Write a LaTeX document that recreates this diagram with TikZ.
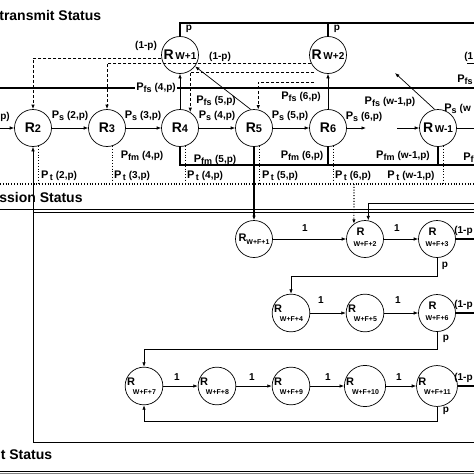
\documentclass[tikz,border=0pt]{standalone}
\usepackage{fontspec}
\setmainfont{Liberation Sans}
\usetikzlibrary{arrows.meta}

\newcommand{\Rm}[1]{{\fontsize{14}{14}\selectfont R}{\fontsize{11}{11}\selectfont #1}}
\newcommand{\Rw}[1]{{\fontsize{14}{14}\selectfont R}\,{\fontsize{10}{10}\selectfont #1}}
\newcommand{\Rinl}[1]{{\fontsize{11}{11}\selectfont R}\raisebox{-2.5pt}{\fontsize{7}{7}\selectfont #1}}
\newcommand{\Rlow}[1]{\raisebox{4pt}{\fontsize{11}{11}\selectfont R}\hspace{-2pt}\raisebox{-5pt}{\fontsize{7}{7}\selectfont #1}\kern5pt}
\newcommand{\Rstk}[1]{\begin{tabular}{@{}l@{}}\fontsize{11}{11}\selectfont\hspace*{3pt}R\\[-1pt]\fontsize{7}{7}\selectfont #1\end{tabular}}
\newcommand{\lab}[2]{{\fontsize{11}{11}\selectfont P}\raisebox{-2pt}{\fontsize{9}{9}\selectfont #1}\hspace{3pt}{\fontsize{10}{10}\selectfont (#2)}}
\newcommand{\sm}[1]{{\fontsize{10}{10}\selectfont #1}}
\newcommand{\ttl}[1]{{\fontsize{14}{14}\selectfont #1}}

\begin{document}
\begin{tikzpicture}[x=1pt, y=-1pt, line width=0.7pt,
  every node/.style={font=\bfseries, inner sep=1pt},
  rnode/.style={circle, draw, minimum size=37pt, inner sep=0pt},
  arr/.style={-{Latex[length=4.5pt,width=3.5pt]}},
  dsh/.style={dash pattern=on 3pt off 2pt, line width=1pt},
  dtt/.style={dash pattern=on 1pt off 1.8pt, line width=1.1pt},
  thk/.style={line width=1.2pt}]

    \useasboundingbox (0,0) rectangle (474,474);

    % titles
    \node[anchor=west, inner sep=0pt] (tRe) at (-1,15) {\ttl{transmit Status}};
    \node[anchor=west, inner sep=0pt] (tTr) at (-1,197) {\ttl{ssion Status}};
    \node[anchor=west, inner sep=0pt] (tWa) at (0.5,455) {\ttl{t Status}};

    % main row
    \node[rnode] (R2) at (33,128) {\Rm{2}};
    \node[rnode] (R3) at (107,128) {\Rm{3}};
    \node[rnode] (R4) at (180,128) {\Rm{4}};
    \node[rnode] (R5) at (254,128) {\Rm{5}};
    \node[rnode] (R6) at (328,128) {\Rm{6}};
    \node[rnode] (Rwm) at (438,128) {\Rw{W-1}};
    \node[rnode] (Rw1) at (180,55) {\Rw{W+1}};
    \node[rnode] (Rw2) at (328,55) {\Rw{W+2}};

    % lower part
    \node[rnode] (F1) at (254,239) {\Rinl{W+F+1}};
    \node[rnode] (F2) at (365,239) {\Rstk{W+F+2}};
    \node[rnode] (F3) at (437,239) {\Rstk{W+F+3}};
    \node[rnode] (F4) at (291,313) {\Rlow{W+F+4}};
    \node[rnode] (F5) at (365,313) {\Rlow{W+F+5}};
    \node[rnode] (F6) at (437,313) {\Rstk{W+F+6}};
    \node[rnode] (F7) at (144,386) {\Rlow{W+F+7}};
    \node[rnode] (F8) at (217,386) {\Rlow{W+F+8}};
    \node[rnode] (F9) at (291,386) {\Rlow{W+F+9}};
    \node[rnode] (F10) at (365,386) {\Rlow{W+F+10}};
    \node[rnode] (F11) at (437,386) {\Rlow{W+F+11}};

    \coordinate (in0) at (0,128);
    \coordinate (m1) at (366,128);
    \coordinate (m2) at (397,128);
    \coordinate (out1) at (474,128);
    \coordinate (t0) at (180,23);
    \coordinate (t1) at (474,23);
    \coordinate (t2) at (328,23);
    \coordinate (h0) at (0,88);
    \coordinate (h1) at (474,88);
    \coordinate (d1) at (395,73);
    \coordinate (c3) at (314,72);
    \coordinate (c4) at (314,82);
    \coordinate (e0) at (467,63);
    \coordinate (e1) at (474,63);
    \coordinate (b1) at (474,165);
    \coordinate (p0) at (0,184);
    \coordinate (p1) at (474,184);
    \coordinate (q1) at (354,184);
    \coordinate (r1) at (474,203);
    \coordinate (s1) at (474,442);
    \coordinate (s2) at (33,442);
    \coordinate (s3) at (474,212);
    \coordinate (s4) at (33,212);
    \coordinate (k1) at (437,276);
    \coordinate (k2) at (437,349);
    \coordinate (k3) at (437,421);
    \coordinate (o3) at (474,239);
    \coordinate (o6) at (474,313);
    \coordinate (o11) at (474,386);

    % region lines
    \draw[line width=1pt] (0,209) -- (474,209);
    \draw[line width=1pt] (0,471.5) -- (474,471.5);
    \draw[line width=1pt, gray] (0,473.5) -- (474,473.5);

    % retransmit part
    \draw[thk] (Rw1) -- (t0) -- (t1);
    \draw[thk] (Rw2) -- (t2);
    \draw[thk] (h0) -- (h1);
    \node[fill=white] (lf4) at (156,88) {\lab{fs}{4,p}};
    \draw[arr] (R4) -- (Rw1);
    \draw[arr] (R5.100) -- (Rw1.-37);
    \draw[arr] (R6) -- (Rw2);
    \draw[arr] (Rwm.100) -- (d1);
    \draw (e0) -- (e1);
    \draw[dsh, arr] (Rw1.190) -| (R2.north);
    \draw[dsh, arr] (Rw2.208) -| (R3.north);
    \draw[dsh, arr] (c3) -| (R4.57);
    \draw[dsh, arr] (c4) -| (R5.77);

    \node (lp1) at (189,29) {\sm{p}};
    \node (lp2) at (337,29) {\sm{p}};
    \node (lq1) at (146,46) {\sm{(1-p)}};
    \node (lq2) at (220,57) {\sm{(1-p)}};
    \node (lf5) at (216,101) {\lab{fs}{5,p}};
    \node (lf6) at (301,97) {\lab{fs}{6,p}};
    \node (lfw) at (390,102) {\lab{fs}{w-1,p}};
    \node[anchor=east] (lfr) at (474,80) {{\fontsize{11}{11}\selectfont P}\raisebox{-2pt}{\fontsize{9}{9}\selectfont fs}};
    \node[anchor=west] (lqr) at (463,57) {\sm{(1}};

    % success transitions
    \draw[arr] (in0) -- (R2);
    \draw[arr] (R2) -- (R3);
    \draw[arr] (R3) -- (R4);
    \draw[arr] (R4) -- (R5);
    \draw[arr] (R5) -- (R6);
    \draw[arr] (R6) -- (m1);
    \draw[arr] (m2) -- (Rwm);
    \draw (Rwm) -- (out1);

    \node (ls1) at (5,117) {\sm{p)}};
    \node (ls2) at (70,116) {\lab{s}{2,p}};
    \node (ls3) at (143,116) {\lab{s}{3,p}};
    \node (ls4) at (217,116) {\lab{s}{4,p}};
    \node (ls5) at (290,116) {\lab{s}{5,p}};
    \node (ls6) at (364,117) {\lab{s}{6,p}};
    \node[anchor=west] (lsw) at (443,109) {{\fontsize{11}{11}\selectfont P}\raisebox{-2pt}{\fontsize{9}{9}\selectfont s}\hspace{3pt}{\fontsize{10}{10}\selectfont (w}};

    % failure and timeout transitions
    \draw[thk] (R4.south) |- (b1);
    \draw[thk] (R6.south) -- (R6.south |- b1);
    \draw[thk] (Rwm.south) -- (Rwm.south |- b1);
    \draw[thk, arr] (R5.south) -- (F1.north);
    \draw[dtt] (p0) -- (p1);
    \foreach \n in {R2,R3,R4,R5,R6,Rwm}
        \draw[dtt] (\n.-74) -- (\n.-74 |- p0);
    \draw[dtt, arr] (q1) -- (F2.126);
    \draw[arr] (r1) -| (F2.80);
    \draw (s3) -- (s4);
    \draw[arr] (s1) -- (s2) -- (R2.south);

    \node (lm4) at (142,156) {\lab{fm}{4,p}};
    \node (lm5) at (215,160) {\lab{fm}{5,p}};
    \node (lm6) at (302,156) {\lab{fm}{6,p}};
    \node (lmw) at (403,156) {\lab{fm}{w-1,p}};
    \node[anchor=west] (lmr) at (462,158) {{\fontsize{11}{11}\selectfont P}\raisebox{-2pt}{\fontsize{9}{9}\selectfont f}};
    \node (lt2) at (59,176) {\lab{\,t}{2,p}};
    \node (lt3) at (132,176) {\lab{\,t}{3,p}};
    \node (lt4) at (205,176) {\lab{\,t}{4,p}};
    \node (lt5) at (280,176) {\lab{\,t}{5,p}};
    \node (lt6) at (353,176) {\lab{\,t}{6,p}};
    \node (ltw) at (411,176) {\lab{\,t}{w-1,p}};

    % waiting chain
    \draw[arr] (F1) -- (F2);
    \draw[arr] (F2) -- (F3);
    \draw[thk] (F3) -- (o3);
    \draw[arr] (F3.south) -- (k1) -| (F4.north);
    \draw[arr] (F4) -- (F5);
    \draw[arr] (F5) -- (F6);
    \draw[thk] (F6) -- (o6);
    \draw[arr] (F6.south) -- (k2) -| (F7.north);
    \draw[arr] (F7) -- (F8);
    \draw[arr] (F8) -- (F9);
    \draw[arr] (F9) -- (F10);
    \draw[arr] (F10) -- (F11);
    \draw[thk] (F11) -- (o11);
    \draw[arr] (F11.south) -- (k3) -| (F7.south);

    \node (l12) at (305,228) {\sm{1}};
    \node (l23) at (397,228) {\sm{1}};
    \node (l45) at (321,300) {\sm{1}};
    \node (l56) at (398,300) {\sm{1}};
    \node (l78) at (177,377) {\sm{1}};
    \node (l89) at (252,377) {\sm{1}};
    \node (l910) at (328,377) {\sm{1}};
    \node (l1011) at (399,377) {\sm{1}};
    \node (lp3) at (445,266) {\sm{p}};
    \node (lp6) at (446,339) {\sm{p}};
    \node (lp11) at (446,411) {\sm{p}};
    \node[anchor=east] (lq3) at (474,231) {\sm{(1-p}};
    \node[anchor=east] (lq6) at (474,305) {\sm{(1-p}};
    \node[anchor=east] (lq11) at (474,378) {\sm{(1-p}};

\end{tikzpicture}
\end{document}
